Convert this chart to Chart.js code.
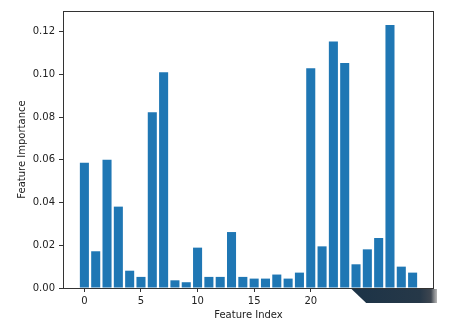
<!DOCTYPE html>
<html>
<head>
<meta charset="utf-8">
<script src="https://cdn.jsdelivr.net/npm/chart.js@4/dist/chart.umd.min.js"></script>
<style>
  html, body { margin: 0; padding: 0; background: #fff; }
  #wrap { width: 474px; height: 327px; }
</style>
</head>
<body>
<div id="wrap"><canvas id="chart" width="474" height="327"></canvas></div>
<script>
// feature index 0..29 and importance
const featureIndex = [0, 1, 2, 3, 4, 5, 6, 7, 8, 9, 10, 11, 12, 13, 14,
                      15, 16, 17, 18, 19, 20, 21, 22, 23, 24, 25, 26, 27, 28, 29];
const importance = [0.0586, 0.0172, 0.0601, 0.0381, 0.0081, 0.0052, 0.0823, 0.1010, 0.0036, 0.0027,
                     0.0189, 0.0052, 0.0052, 0.0262, 0.0052, 0.0044, 0.0044, 0.0063, 0.0044, 0.0072,
                     0.1029, 0.0195, 0.1154, 0.1054, 0.0111, 0.0181, 0.0234, 0.1232, 0.0100, 0.0072];
const xTicks = [0, 5, 10, 15, 20, 25, 30];
const yTicks = [0.00, 0.02, 0.04, 0.06, 0.08, 0.10, 0.12];

const font = {family: "'DejaVu Sans', sans-serif", size: 10};

// matplotlib-style box around the axes
const frame = {
    id: 'frame',
    afterDatasetsDraw(chart) {
        const a = chart.chartArea;
        const c = chart.ctx;
        c.save();
        c.strokeStyle = '#333';
        c.lineWidth = 1;
        c.strokeRect(Math.round(a.left) + 0.5, Math.round(a.top) + 0.5,
            Math.round(a.right - a.left) - 1, Math.round(a.bottom - a.top));
        c.restore();
    },
    // dark smudge under the right part of the axis in the source picture
    afterDraw(chart) {
        const x = chart.scales.x;
        const a = chart.chartArea;
        const c = chart.ctx;
        const x0 = x.getPixelForValue(23.6), x1 = x.getPixelForValue(24.9), x2 = a.right + 3;
        const g = c.createLinearGradient(x0, 0, x2, 0);
        g.addColorStop(0, '#1c3347');
        g.addColorStop(0.8, '#263848');
        g.addColorStop(0.93, '#3e4650');
        g.addColorStop(1, 'rgba(110,110,110,0.5)');
        c.save();
        c.fillStyle = g;
        c.beginPath();
        c.moveTo(x0, a.bottom + 1);
        c.lineTo(x2, a.bottom + 1);
        c.lineTo(x2, a.bottom + 15);
        c.lineTo(x1, a.bottom + 15);
        c.closePath();
        c.fill();
        c.restore();
    }
};

new Chart(document.getElementById('chart'), {
    type: 'bar',
    data: {
        datasets: [{
            data: featureIndex.map((f, i) => ({x: f, y: importance[i]})),
            backgroundColor: '#1f77b4',
            borderWidth: 0,
            categoryPercentage: 1,
            barPercentage: 0.8
        }]
    },
    options: {
        responsive: false,
        animation: false,
        layout: {padding: {left: 0, top: 11, right: 40, bottom: 0}},
        plugins: {legend: {display: false}, tooltip: {enabled: false}},
        scales: {
            x: {
                type: 'linear',
                min: -1.89,
                max: 30.89,
                offset: false,
                grid: {offset: false, drawOnChartArea: false, drawTicks: true, tickLength: 4, color: '#333'},
                border: {display: false},
                afterBuildTicks: s => { s.ticks = xTicks.map(v => ({value: v})); },
                afterFit: s => { s.height = 39; },
                ticks: {
                    font: font, color: '#222', padding: 3, maxRotation: 0,
                    callback: v => (v > 20 ? '' : String(v))
                },
                title: {display: true, text: 'Feature Index', font: font, color: '#222', padding: {top: 6, bottom: 6}}
            },
            y: {
                min: 0,
                max: 0.1297,
                grid: {drawOnChartArea: false, drawTicks: true, tickLength: 4, color: '#333'},
                border: {display: false},
                afterBuildTicks: s => { s.ticks = yTicks.map(v => ({value: v})); },
                afterFit: s => { s.width = 63; },
                ticks: {font: font, color: '#222', padding: 4, callback: v => v.toFixed(2)},
                title: {display: true, text: 'Feature Importance', font: font, color: '#222', padding: {top: 16, bottom: 0}}
            }
        }
    },
    plugins: [frame]
});
</script>
</body>
</html>
